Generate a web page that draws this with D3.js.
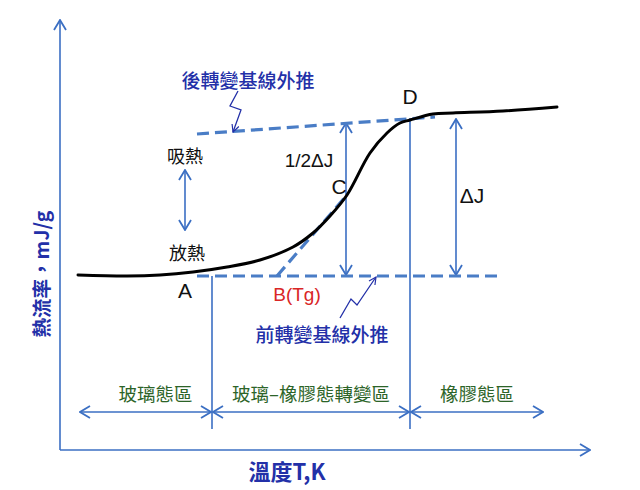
<!DOCTYPE html>
<html>
<head>
<meta charset="utf-8">
<script src="https://cdn.jsdelivr.net/npm/d3@7"></script>
<style>
  html, body { margin: 0; padding: 0; background: #ffffff; }
  svg { display: block; }
</style>
</head>
<body>
<div id="chart"></div>
<script>
// ---- Data (schematic units: temperature T along x, heat flow along y) ----
// DSC curve through the glass transition
const curveT    = [18, 67, 100, 133, 167, 200, 233, 253, 270, 287, 310, 327, 340, 350, 373, 393, 443, 497];
const curveHeat = [175, 174, 175, 178, 183, 190, 203, 217, 234, 255, 297, 317, 327, 330, 336, 337, 339, 343];

// baseline extrapolations
const preBaselineT    = [137, 440];
const preBaselineHeat = [174, 174];
const postBaselineT    = [137, 375];
const postBaselineHeat = [316, 333];
// tangent from B (Tg) through C
const tangentT    = [217, 287];
const tangentHeat = [174, 255];

// characteristic temperatures: onset (A) and end (D)
const onsetT = 152, endT = 350;
const regionFloor = 21;
// ΔJ arrows
const halfDJ = { T: 286, top: 327, bottom: 175 };
const fullDJ = { T: 396, top: 331, bottom: 175 };
// 吸熱/放熱 arrow
const heatDir = { T: 125, top: 280, bottom: 220 };
// region arrows
const regionHeat = 38;
const regionNames = ["玻璃態區", "玻璃–橡膠態轉變區", "橡膠態區"];
const regionBounds = [[19, onsetT], [onsetT, endT], [endT, 484]];

// annotation squiggles (callout arrows)
const postCalloutT    = [178, 170, 181, 173];
const postCalloutHeat = [359, 344, 340, 318];
const preCalloutT    = [280, 291, 297, 316];
const preCalloutHeat = [132, 151, 145, 173];

// labels
const pointLabels = [
  { text: "A",     T: 125, heat: 160, color: "#111111" },
  { text: "B(Tg)", T: 237, heat: 156, color: "#d92626" },
  { text: "C",     T: 279, heat: 264, color: "#111111" },
  { text: "D",     T: 350, heat: 354, color: "#111111" },
  { text: "1/2ΔJ", T: 249, heat: 290, color: "#111111" },
  { text: "ΔJ",    T: 412, heat: 255, color: "#111111" }
];
const annoLabels = [
  { text: "後轉變基線外推", T: 188, heat: 371 },
  { text: "前轉變基線外推", T: 262, heat: 117 }
];
const heatLabels = [
  { text: "吸熱", T: 125, heat: 295 },
  { text: "放熱", T: 127, heat: 198 }
];
const xAxisLabel = "溫度T,K";
const yAxisLabel = "熱流率，mJ/g";

// ---- Layout ----
const W = 640, H = 490;
const x = d3.scaleLinear().domain([0, 530]).range([60, 590]);
const y = d3.scaleLinear().domain([0, 430]).range([450, 20]);

const BLUE = "#3b6fc3";
const DASH = "#4a7dc6";
const TEXTBLUE = "#2330a8";
const GREEN = "#2c6428";
const CJK = "'Noto Sans CJK TC', 'Noto Sans CJK SC', sans-serif";
const LATIN = "'Liberation Sans', Arial, sans-serif";

const svg = d3.select("#chart").append("svg")
  .attr("width", W).attr("height", H);

const defs = svg.append("defs");
function chevron(id, color, w) {
  defs.append("marker")
    .attr("id", id)
    .attr("viewBox", "0 0 12 14")
    .attr("refX", 11).attr("refY", 7)
    .attr("markerWidth", 12).attr("markerHeight", 14)
    .attr("markerUnits", "userSpaceOnUse")
    .attr("orient", "auto-start-reverse")
    .append("path")
    .attr("d", "M1,1 L11,7 L1,13")
    .attr("fill", "none")
    .attr("stroke", color)
    .attr("stroke-width", w)
    .attr("stroke-linejoin", "miter");
}
chevron("chev", BLUE, 1.8);
defs.append("marker")
  .attr("id", "callout")
  .attr("viewBox", "0 0 10 10")
  .attr("refX", 9).attr("refY", 5)
  .attr("markerWidth", 9).attr("markerHeight", 9)
  .attr("markerUnits", "userSpaceOnUse")
  .attr("orient", "auto")
  .append("path")
  .attr("d", "M1,1 L9,5 L1,9")
  .attr("fill", "none")
  .attr("stroke", TEXTBLUE)
  .attr("stroke-width", 1.3);

const line = d3.line().x(d => x(d[0])).y(d => y(d[1]));

// axes
svg.append("path")
  .attr("d", line([[0, 0], [0, 430]]))
  .attr("stroke", BLUE).attr("stroke-width", 1.6).attr("fill", "none")
  .attr("marker-end", "url(#chev)");
svg.append("path")
  .attr("d", line([[0, 0], [530, 0]]))
  .attr("stroke", BLUE).attr("stroke-width", 1.6).attr("fill", "none")
  .attr("marker-end", "url(#chev)");

// vertical boundaries
[[onsetT, preBaselineHeat[0]], [endT, 332]].forEach(([t, top]) => {
  svg.append("path")
    .attr("d", line([[t, regionFloor], [t, top]]))
    .attr("stroke", BLUE).attr("stroke-width", 1.6).attr("fill", "none");
});

// double-headed arrows
function dbl(pts) {
  svg.append("path")
    .attr("d", line(pts))
    .attr("stroke", BLUE).attr("stroke-width", 1.6).attr("fill", "none")
    .attr("marker-start", "url(#chev)")
    .attr("marker-end", "url(#chev)");
}
dbl([[halfDJ.T, halfDJ.bottom], [halfDJ.T, halfDJ.top]]);
dbl([[fullDJ.T, fullDJ.bottom], [fullDJ.T, fullDJ.top]]);
dbl([[heatDir.T, heatDir.bottom], [heatDir.T, heatDir.top]]);
regionBounds.forEach(b => dbl([[b[0] + 1, regionHeat], [b[1] - 1, regionHeat]]));

// dashed baselines and tangent
const dashed = [
  d3.zip(preBaselineT, preBaselineHeat),
  d3.zip(postBaselineT, postBaselineHeat),
  d3.zip(tangentT, tangentHeat)
];
dashed.forEach(pts => {
  svg.append("path")
    .attr("d", line(pts))
    .attr("stroke", DASH).attr("stroke-width", 3.2).attr("fill", "none")
    .attr("stroke-dasharray", "12,6");
});

// DSC curve
svg.append("path")
  .attr("d", d3.line().curve(d3.curveCatmullRom.alpha(0.5))
    .x(d => x(d[0])).y(d => y(d[1]))(d3.zip(curveT, curveHeat)))
  .attr("stroke", "#000").attr("stroke-width", 3).attr("fill", "none")
  .attr("stroke-linecap", "round");

// callout squiggles
[d3.zip(postCalloutT, postCalloutHeat), d3.zip(preCalloutT, preCalloutHeat)].forEach(pts => {
  svg.append("path")
    .attr("d", d3.line().curve(d3.curveLinear).x(d => x(d[0])).y(d => y(d[1]))(pts))
    .attr("stroke", TEXTBLUE).attr("stroke-width", 1.3).attr("fill", "none")
    .attr("marker-end", "url(#callout)");
});

// texts
function label(t, heat, text, opts) {
  svg.append("text")
    .attr("x", x(t)).attr("y", y(heat))
    .attr("text-anchor", "middle")
    .attr("dominant-baseline", "central")
    .attr("font-family", opts.family)
    .attr("font-size", opts.size)
    .attr("font-weight", opts.weight || "normal")
    .attr("fill", opts.color)
    .text(text);
}
pointLabels.forEach(p => label(p.T, p.heat, p.text, { family: LATIN, size: p.text.length > 2 ? 19 : 21, color: p.color }));
annoLabels.forEach(p => label(p.T, p.heat, p.text, { family: CJK, size: 19, weight: 500, color: TEXTBLUE }));
heatLabels.forEach(p => label(p.T, p.heat, p.text, { family: CJK, size: 18, color: "#111" }));
regionNames.forEach((n, i) => {
  const b = regionBounds[i];
  label((b[0] + b[1]) / 2 + (i === 0 ? 10 : 0), 57, n, { family: CJK, size: 18.5, color: GREEN });
});

// axis titles
label(227, -20, xAxisLabel, { family: CJK, size: 22, weight: 700, color: TEXTBLUE });
svg.append("text")
  .attr("transform", `translate(${x(-20)},${y(176)}) rotate(-90)`)
  .attr("text-anchor", "middle")
  .attr("dominant-baseline", "central")
  .attr("font-family", CJK)
  .attr("font-size", 19.5)
  .attr("font-weight", 700)
  .attr("fill", TEXTBLUE)
  .text(yAxisLabel);
</script>
</body>
</html>
